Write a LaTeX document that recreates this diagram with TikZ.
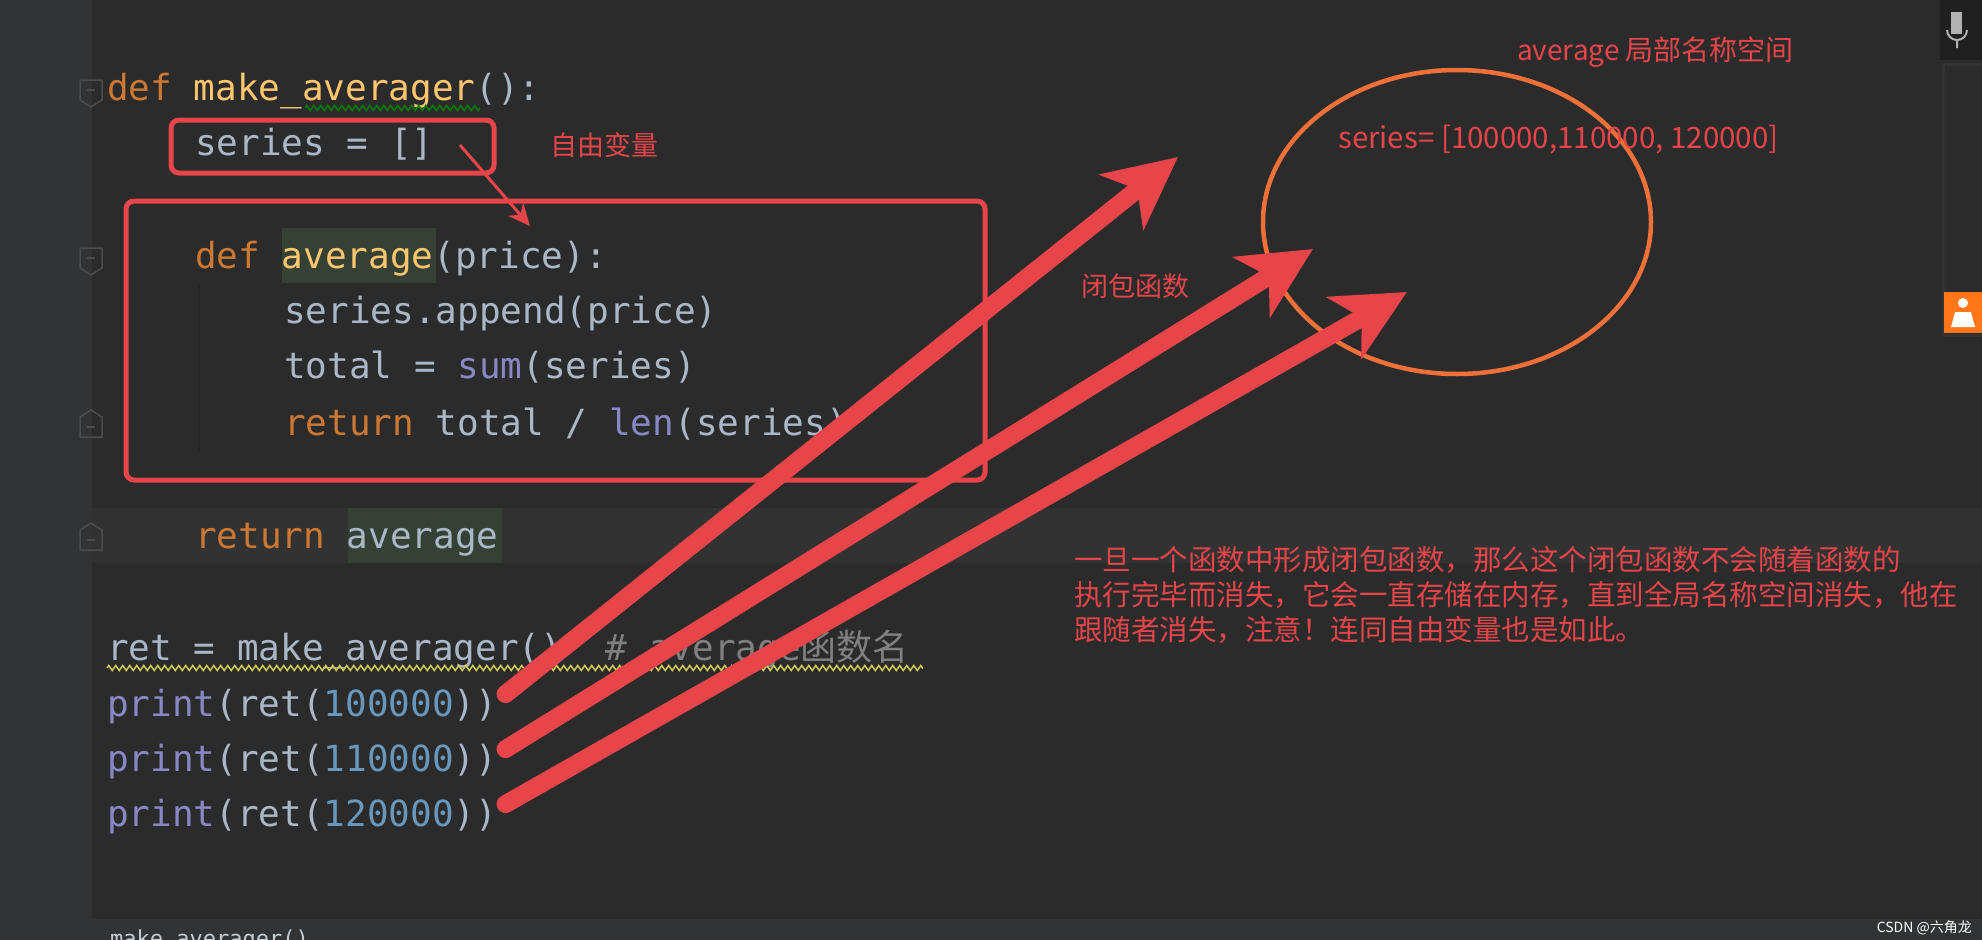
\documentclass[tikz,border=0pt]{standalone}
\usepackage{fontspec}
\setmonofont{DejaVu Sans Mono}
\newfontfamily\cjk{Noto Sans CJK SC}
\usetikzlibrary{arrows.meta,decorations.pathmorphing}
\definecolor{IdeBg}{HTML}{2B2B2B}
\definecolor{IdeGutter}{HTML}{313335}
\definecolor{IdeBand}{HTML}{323232}
\definecolor{PyKw}{HTML}{CC7832}
\definecolor{PyFn}{HTML}{FFC66D}
\definecolor{PyTxt}{HTML}{A9B7C6}
\definecolor{PyBuiltin}{HTML}{8888C6}
\definecolor{PyNum}{HTML}{6897BB}
\definecolor{PyCmt}{HTML}{808080}
\definecolor{PyHl}{HTML}{344134}
\definecolor{MarkRed}{HTML}{E8454A}
\definecolor{MarkOrange}{HTML}{F0703A}
\tikzset{
    codeline/.style = {anchor=base west, inner sep=0pt, font=\ttfamily\fontsize{36}{36}\selectfont, text=PyTxt},
    note/.style = {anchor=base west, inner sep=0pt, font=\cjk\fontsize{28.5}{35}\selectfont, text=MarkRed},
    redbox/.style = {draw=MarkRed, line width=5pt, rounded corners=8pt},
    fatarrow/.style = {draw=MarkRed, line width=18pt, line cap=round, -{Stealth[length=72pt,width=70pt,inset=20pt]}},
    foldmark/.style = {draw=gray!60!black, line width=1.5pt},
    squiggle/.style = {line width=1.5pt, decorate, decoration={zigzag, amplitude=2.5pt, segment length=7pt}}
}
\begin{document}
\begin{tikzpicture}[x=1pt,y=-1pt]
    \useasboundingbox (0,0) rectangle (1982,940);
    \clip (0,0) rectangle (1982,940);
    % editor background
    \fill[IdeBg] (0,0) rectangle (1982,940);
    \fill[IdeGutter] (0,0) rectangle (91,919);
    \draw[gray!40!black, line width=1.5pt] (91,0) -- (91,919);
    \fill[IdeBand] (92,508) rectangle (1982,563);
    \fill[IdeGutter] (0,919) rectangle (1982,940);
    \node[codeline, font=\ttfamily\fontsize{22}{22}\selectfont, text=PyTxt!70] (status) at (110,946) {make\_averager()};
    \node[anchor=base east, inner sep=0pt, font=\cjk\fontsize{14}{14}\selectfont, text=white!80] (csdn) at (1972,932) {CSDN @六角龙};
    % right side panel
    \fill[gray!25!black] (1940,0) rectangle (1982,60);
    \fill[gray!60] (1951,12) rectangle (1962,34);
    \draw[gray!60, line width=2pt] (1947,30) arc (180:360:10pt) (1957,40) -- (1957,48);
    \draw[black!80, line width=3pt, fill=IdeBg] (1943,64) rectangle (1990,335);
    \fill[orange!80!red!90] (1944,292) rectangle (1982,333);
    \fill[white] (1963,303) circle (5pt);
    \fill[white] (1951,327) -- (1955,312) -- (1971,312) -- (1975,327) -- cycle;
    % fold markers and indent guide
    \foreach \y in {80,248}{
        \draw[foldmark] (80,\y) -- (102,\y) -- (102,\y+20) -- (91,\y+27) -- (80,\y+20) -- cycle;
        \draw[foldmark] (87,\y+10) -- (95,\y+10);
    }
    \foreach \y in {437,550}{
        \draw[foldmark] (80,\y) -- (102,\y) -- (102,\y-20) -- (91,\y-27) -- (80,\y-20) -- cycle;
        \draw[foldmark] (87,\y-10) -- (95,\y-10);
    }
    \draw[gray!30!black, line width=1.5pt] (199,284) -- (199,452);
    % highlighted identifiers
    \fill[PyHl] (282,228) rectangle (436,283);
    \fill[PyHl] (348,508) rectangle (502,563);
    % code
    \node[codeline] (line1) at (107,100) {\color{PyKw}def \color{PyFn}make\_averager\color{PyTxt}():};
    \node[codeline] (line2) at (195,155) {series = []};
    \node[codeline] (line3) at (195,268) {\color{PyKw}def \color{PyFn}average\color{PyTxt}(price):};
    \node[codeline] (line4) at (284,323) {series.append(price)};
    \node[codeline] (line5) at (284,378) {total = \color{PyBuiltin}sum\color{PyTxt}(series)};
    \node[codeline] (line6) at (284,435) {\color{PyKw}return \color{PyTxt}total / \color{PyBuiltin}len\color{PyTxt}(series)};
    \node[codeline] (line7) at (195,548) {\color{PyKw}return \color{PyTxt}average};
    \node[codeline] (line8) at (107,660) {ret = make\_averager()\ \ \color{PyCmt}\# average{\cjk 函数名}};
    \foreach \n [count=\i] in {100000,110000,120000}{
        \node[codeline] (call\i) at (107,661+55*\i) {\color{PyBuiltin}print\color{PyTxt}(ret(\color{PyNum}\n\color{PyTxt}))};
    }
    \draw[squiggle, green!50!black] (305,108) -- (480,108);
    \draw[squiggle, yellow!60!gray] (107,668) -- (923,668);
    % annotations
    \draw[redbox] (171,120) rectangle (494,173);
    \draw[redbox] (126,201) rectangle (985,480);
    \draw[MarkRed, line width=3pt, -{Stealth[length=22pt,width=20pt]}] (460,145) -- (530,226);
    \node[note, font=\cjk\fontsize{27}{27}\selectfont] (freevar) at (550,155) {自由变量};
    \node[note, font=\cjk\fontsize{27}{27}\selectfont] (closure) at (1081,296) {闭包函数};
    \draw[MarkOrange, line width=4.5pt] (1457,222) ellipse [x radius=194, y radius=152];
    \node[note, font=\cjk\fontsize{28}{28}\selectfont] (space) at (1517,60) {average 局部名称空间};
    \node[note, font=\cjk\fontsize{29.5}{29.5}\selectfont] (seriesval) at (1338,148) {series= [100000,110000, 120000]};
    \node[note, anchor=north west, align=left] (remark) at (1074,546) {一旦一个函数中形成闭包函数，那么这个闭包函数不会随着函数的\\执行完毕而消失，它会一直存储在内存，直到全局名称空间消失，他在\\跟随者消失，注意！连同自由变量也是如此。};
    \coordinate (tip1) at (1178,157);
    \coordinate (tip2) at (1313,249);
    \coordinate (tip3) at (1407,292);
    \foreach \i in {1,2,3}{
        \draw[fatarrow] ([xshift=8pt]call\i.east) ++(0,-12) -- (tip\i);
    }
\end{tikzpicture}
\end{document}
